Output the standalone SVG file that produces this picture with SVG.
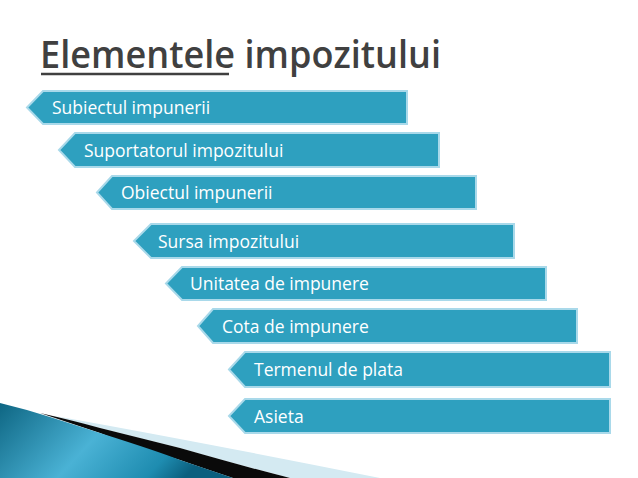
<svg xmlns="http://www.w3.org/2000/svg" width="638" height="478" viewBox="0 0 638 478">
  <defs>
    <style>
      .box { fill: #2ea0bf; stroke: #a9d9ea; stroke-width: 2; stroke-linejoin: miter; }
      .lbl { fill: #ffffff; font-family: "Open Sans", "Liberation Sans", sans-serif; font-size: 17.5px; }
      .title { fill: #404040; font-family: "Open Sans", "Liberation Sans", sans-serif; font-size: 38px; font-weight: 600; }
    </style>
    <linearGradient id="swoosh" x1="0" y1="0" x2="1" y2="0.3">
      <stop offset="0" stop-color="#0e6683"/>
      <stop offset="0.5" stop-color="#4ab2d5"/>
      <stop offset="0.85" stop-color="#1e8cb0"/>
      <stop offset="1" stop-color="#0b5f7e"/>
    </linearGradient>
  </defs>
  <rect width="638" height="478" fill="#ffffff"/>

  <g id="title">
    <text class="title" x="40" y="68" textLength="401" lengthAdjust="spacingAndGlyphs">Elementele impozitului</text>
    <line x1="41" y1="74" x2="229" y2="74" stroke="#404040" stroke-width="2.5"/>
  </g>

  <g id="decoration">
    <path d="M55,416 Q200,442 380,478 L290,478 Q220,460 180,448 Q130,436 100,428 Q75,422 55,416 Z" fill="#d4eaf2"/>
    <path d="M40,413 Q75,421 100,428 Q140,438 180,448 Q250,468 290,478 L233,478 Q200,467 180,460 Q130,445 100,433 Q70,423 40,413 Z" fill="#0a0a0a"/>
    <path d="M0,403 Q25,409 50,417 L100,433 Q160,452 180,460 L233,478 L0,478 Z" fill="url(#swoosh)"/>
  </g>

  <g id="connectors"></g>

  <g id="n1">
    <polygon class="box" points="27,107.5 43,91 407,91 407,124 43,124"/>
    <text class="lbl" x="52" y="114">Subiectul impunerii</text>
  </g>
  <g id="n2">
    <polygon class="box" points="59,150 75,133 439,133 439,167 75,167"/>
    <text class="lbl" x="84" y="156.5">Suportatorul impozitului</text>
  </g>
  <g id="n3">
    <polygon class="box" points="97,192.5 112,176 476,176 476,209 112,209"/>
    <text class="lbl" x="121" y="199">Obiectul impunerii</text>
  </g>
  <g id="n4">
    <polygon class="box" points="134,241 151,224 514,224 514,258 151,258"/>
    <text class="lbl" x="158" y="247.5">Sursa impozitului</text>
  </g>
  <g id="n5">
    <polygon class="box" points="166,283.5 182,267 546,267 546,300 182,300"/>
    <text class="lbl" x="190" y="290">Unitatea de impunere</text>
  </g>
  <g id="n6">
    <polygon class="box" points="198,326 213,309 577,309 577,343 213,343"/>
    <text class="lbl" x="222" y="332.5">Cota de impunere</text>
  </g>
  <g id="n7">
    <polygon class="box" points="229,369.5 245,352 610,352 610,387 245,387"/>
    <text class="lbl" x="254" y="376">Termenul de plata</text>
  </g>
  <g id="n8">
    <polygon class="box" points="229,416 245,399 610,399 610,433 245,433"/>
    <text class="lbl" x="254" y="422.5">Asieta</text>
  </g>
</svg>
